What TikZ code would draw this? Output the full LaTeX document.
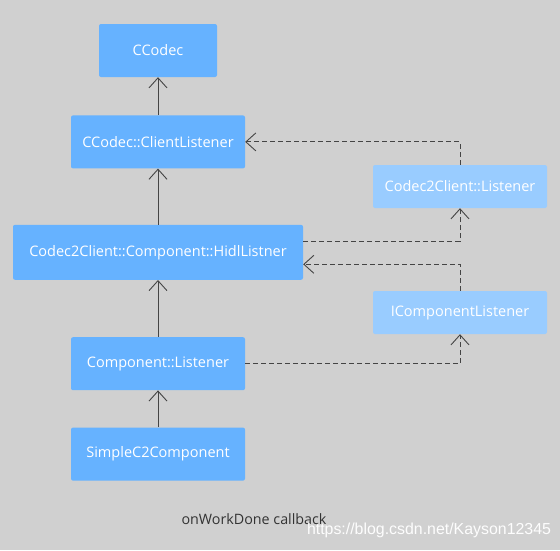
\documentclass[tikz,border=0pt]{standalone}
\usepackage{fontspec}
\setmainfont{Open Sans}
\newfontfamily\markfont{Liberation Sans}
\usetikzlibrary{positioning}
\usetikzlibrary{arrows.meta}
\usepackage{xcolor}
\definecolor{bggray}{HTML}{D0D0D0}
\definecolor{boxblue}{HTML}{66B2FF}
\definecolor{lightblue}{HTML}{99CCFF}
\definecolor{linegray}{HTML}{444444}

\begin{document}
\begin{tikzpicture}[
		x=1pt, y=-1pt,
		% Style definitions
		classbox/.style={draw=none, fill=boxblue, rounded corners=2pt, minimum width=174pt, minimum height=53pt, font=\fontsize{14.5}{17}\selectfont, text=white, inner sep=0pt},
		ifacebox/.style={classbox, fill=lightblue, minimum height=43pt},
		inherit/.style={-{Straight Barb[length=10pt, width=18pt]}, linegray, line width=0.9pt},
		implement/.style={inherit, dash pattern=on 5pt off 3pt},
		node distance=0pt,
		]
		% === Background and frame ===
		\fill[bggray] (0,0) rectangle (560,550);
		\useasboundingbox (0,0) rectangle (560,550);

		% === Main column: class chain ===
		\node[classbox, minimum width=118pt] (ccodec) at (158,50.5) {CCodec};
		\node[classbox, below=38pt of ccodec] (clientlsn) {CCodec::ClientListener};
		\node[classbox, minimum width=290pt, minimum height=55pt, below=56pt of clientlsn] (hidllsn) {Codec2Client::Component::HidlListner};
		\node[classbox, below=57pt of hidllsn] (complsn) {Component::Listener};
		\node[classbox, below=37pt of complsn] (simple) {SimpleC2Component};

		% === Right column: interfaces ===
		\node[ifacebox] (c2lsn) at (460,186.5) {Codec2Client::Listener};
		\node[ifacebox] (icomplsn) at (460,312.5) {IComponentListener};

		% === Solid inheritance arrows ===
		\draw[inherit] (clientlsn.north) -- (ccodec.south);
		\draw[inherit] (hidllsn.north) -- (clientlsn.south);
		\draw[inherit] (complsn.north) -- (hidllsn.south);
		\draw[inherit] (simple.north) -- (complsn.south);

		% === Dashed callback arrows ===
		\draw[implement] (c2lsn.north) |- (clientlsn.east);
		\draw[implement] ([yshift=11pt]hidllsn.east) -| (c2lsn.south);
		\draw[implement] (icomplsn.north) |- ([yshift=-12pt]hidllsn.east);
		\draw[implement] (complsn.east) -| (icomplsn.south);

		% === Caption ===
		\node[font=\fontsize{14.3}{17}\selectfont, text=black!80] (caption) at (254,519) {onWorkDone callback};
		\node[font=\markfont\fontsize{15.9}{18}\selectfont, text=white!96!bggray] (mark) at (429,530) {https://blog.csdn.net/Kayson12345};

	\end{tikzpicture}
\end{document}
